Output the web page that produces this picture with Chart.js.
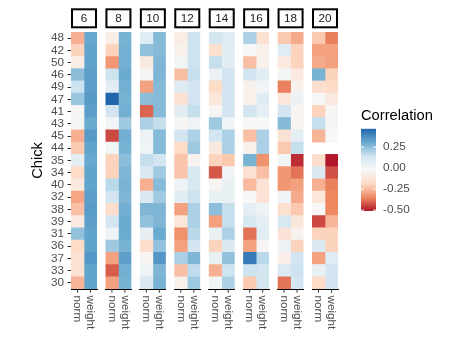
<!DOCTYPE html>
<html>
<head>
<meta charset="utf-8">
<script src="https://cdn.jsdelivr.net/npm/chart.js"></script>
<style>
  body { margin: 0; background: #fff; }
  #wrap { position: relative; width: 474px; height: 338px; }
  #wrap canvas { position: absolute; left: 0; top: 0; }
</style>
</head>
<body>
<div id="wrap"></div>
<script>
const chicks = ['48','42','50','46','49','47','41','43','45','44','35','34','40','32','38','39','31','36','37','33','30'];
const times = ['6','8','10','12','14','16','18','20'];
const variables = ['norm','weight'];

// correlation per time, one row per time, values follow the chicks order
const normCor = [
  [-0.27,-0.20,-0.08,0.25,0.15,0.23,-0.03,-0.03,-0.27,-0.22,0.06,-0.18,-0.10,-0.29,-0.24,-0.10,0.24,-0.18,-0.14,-0.14,-0.26], // 6
  [-0.08,-0.20,-0.32,0.15,0.07,0.47,0.14,0.00,-0.44,0.00,-0.20,-0.20,0.18,0.14,-0.17,0.14,0.02,0.22,-0.30,-0.41,-0.30],        // 8
  [0.08,0.24,-0.10,-0.03,-0.30,0.25,-0.40,0.20,0.03,0.02,0.16,0.10,-0.27,0.10,0.27,0.24,0.05,-0.17,-0.04,0.02,0.10],           // 10
  [-0.08,-0.06,0.00,-0.24,0.08,-0.15,0.07,-0.03,0.14,-0.18,-0.23,-0.23,0.02,0.07,-0.30,-0.12,-0.33,-0.30,0.20,-0.24,-0.06],    // 12
  [0.13,-0.15,0.16,0.03,-0.18,-0.12,-0.03,0.22,0.13,-0.10,-0.20,-0.42,-0.04,0.04,0.25,-0.30,0.04,-0.20,0.04,-0.27,0.00],       // 14
  [0.20,-0.02,-0.24,0.14,-0.06,-0.06,0.14,-0.02,-0.24,-0.06,0.28,-0.15,-0.25,-0.02,0.06,0.12,-0.38,-0.30,0.42,0.15,-0.22],     // 16
  [-0.22,0.08,-0.10,0.00,-0.36,-0.12,0.14,0.26,-0.14,-0.22,0.00,-0.32,-0.32,0.01,-0.15,0.12,-0.14,0.03,-0.07,0.10,-0.38],      // 18
  [-0.22,-0.30,-0.28,0.28,-0.16,-0.02,-0.20,0.16,-0.26,null,-0.17,0.10,-0.27,-0.12,-0.02,-0.44,-0.20,0.10,-0.30,0.04,-0.18]    // 20
];
const weightCor = [
  [0.31,0.32,0.32,0.33,0.33,0.34,0.33,0.30,0.34,0.32,0.31,0.32,0.32,0.33,0.34,0.33,0.32,0.32,0.35,0.32,0.32],
  [0.28,0.29,0.29,0.30,0.29,0.28,0.29,0.22,0.29,0.28,0.25,0.27,0.28,0.27,0.29,0.30,0.30,0.28,0.33,0.29,0.28],
  [0.26,0.26,0.27,0.27,0.26,0.26,0.26,0.16,0.26,0.26,0.14,0.22,0.26,0.22,0.27,0.27,0.30,0.24,0.35,0.27,0.28],
  [0.15,0.15,0.15,0.16,0.14,0.14,0.16,0.02,0.20,0.22,-0.05,0.12,0.12,0.15,0.20,0.20,0.18,0.14,0.27,0.17,0.22],
  [0.08,0.07,0.07,0.14,0.14,0.14,0.14,0.01,0.20,0.20,-0.22,0.01,0.04,0.04,0.16,0.16,0.20,0.10,0.24,0.15,0.20],
  [-0.15,-0.06,-0.06,0.07,0.01,0.08,0.06,-0.02,0.20,0.20,-0.33,-0.24,-0.14,-0.14,0.02,0.06,0.07,-0.03,0.18,0.14,0.14],
  [-0.28,-0.20,-0.20,-0.10,-0.06,0.03,-0.04,-0.04,0.06,0.16,-0.48,-0.38,-0.30,-0.28,-0.22,-0.12,-0.05,-0.20,0.13,0.15,0.13],
  [-0.36,-0.30,-0.30,-0.20,-0.18,-0.10,-0.03,-0.03,-0.02,null,-0.51,-0.43,-0.36,-0.35,-0.35,-0.26,-0.20,-0.20,0.08,0.14,0.14]
];
const legendBreaks = [-0.5, -0.25, 0, 0.25];

// RdBu, low -> high
const rdbu = ['#B2182B','#EF8A62','#FDDBC7','#F7F7F7','#D1E5F0','#67A9CF','#2166AC'];

const W = 474, H = 338;
const firstLeft = 71, step = 34.43, panelW = 26, panelTop = 32, panelBottom = 289;

Chart.defaults.font.family = '"Liberation Sans", Arial, sans-serif';

const allVals = normCor.flat().concat(weightCor.flat()).filter(v => v !== null);
const lo = Math.min(...allVals);
const hi = Math.max(...allVals);

const hexToRgb = h => [1, 3, 5].map(i => parseInt(h.substr(i, 2), 16));
const fillFor = v => {
  if (v === null) return 'rgba(0,0,0,0)';
  const t = (v - lo) / (hi - lo) * (rdbu.length - 1);
  const i = Math.min(Math.floor(t), rdbu.length - 2);
  const f = t - i;
  const a = hexToRgb(rdbu[i]), b = hexToRgb(rdbu[i + 1]);
  return 'rgb(' + a.map((c, k) => Math.round(c + (b[k] - c) * f)).join(',') + ')';
};

const newCanvas = () => {
  const c = document.createElement('canvas');
  c.width = W;
  c.height = H;
  document.getElementById('wrap').appendChild(c);
  return c;
};

// facet strip above each panel
const stripPlugin = {
  id: 'strip',
  afterDraw(chart, args, opts) {
    const {ctx, chartArea: a} = chart;
    ctx.save();
    ctx.fillStyle = '#fff';
    ctx.strokeStyle = '#000';
    ctx.lineWidth = 2;
    ctx.fillRect(a.left + 1, 9.3, a.width - 2, 18);
    ctx.strokeRect(a.left + 1, 9.3, a.width - 2, 18);
    ctx.fillStyle = '#1A1A1A';
    ctx.font = '11.7px "Liberation Sans", Arial, sans-serif';
    ctx.textAlign = 'center';
    ctx.textBaseline = 'middle';
    ctx.fillText(opts.label, (a.left + a.right) / 2, 18.6);
    ctx.restore();
  }
};

// x ticks + labels turned to read downward
const colLabels = {
  id: 'colLabels',
  afterDraw(chart) {
    const {ctx, chartArea: a} = chart;
    const x = chart.scales.x;
    ctx.save();
    ctx.strokeStyle = '#333';
    ctx.lineWidth = 1;
    ctx.fillStyle = '#4D4D4D';
    ctx.font = '11.7px "Liberation Sans", Arial, sans-serif';
    ctx.textAlign = 'left';
    ctx.textBaseline = 'middle';
    variables.forEach((v, i) => {
      const px = x.getPixelForValue(i + 0.5);
      ctx.beginPath();
      ctx.moveTo(px, a.bottom);
      ctx.lineTo(px, a.bottom + 3.7);
      ctx.stroke();
      ctx.save();
      ctx.translate(px, a.bottom + 6.5);
      ctx.rotate(Math.PI / 2);
      ctx.fillText(v, 0, 0);
      ctx.restore();
    });
    ctx.restore();
  }
};

times.forEach((t, k) => {
  const left = firstLeft + k * step;
  const first = k === 0;
  new Chart(newCanvas(), {
    type: 'bar',
    data: {
      labels: chicks,
      datasets: variables.map((v, j) => {
        const vals = (j === 0 ? normCor : weightCor)[k];
        return {
          label: v,
          data: vals.map(c => c === null ? null : 1),
          backgroundColor: vals.map(fillFor),
          borderWidth: 0,
          barPercentage: 1,
          categoryPercentage: 1
        };
      })
    },
    options: {
      indexAxis: 'y',
      responsive: false,
      animation: false,
      events: [],
      layout: {padding: {left: first ? 0 : left, right: W - left - panelW, top: panelTop, bottom: 0}},
      scales: {
        x: {
          type: 'linear', stacked: true, min: 0, max: 2,
          ticks: {display: false},
          grid: {display: false},
          border: {display: true, color: '#000', width: 1},
          afterFit: s => { s.height = H - panelBottom; }
        },
        y: {
          type: 'category', stacked: true, display: first,
          grid: {display: true, drawOnChartArea: false, offset: false, tickLength: 3.5, color: '#333'},
          border: {display: true, color: '#000', width: 1},
          ticks: {autoSkip: false, color: '#4D4D4D', padding: 3.5, font: {size: 11.7, lineHeight: 1}},
          title: {display: true, text: 'Chick', color: '#000', font: {size: 14.7}, padding: {top: 29, bottom: 0}},
          afterFit: s => { s.width = first ? left : 0; }
        }
      },
      plugins: {
        legend: {display: false},
        tooltip: {enabled: false},
        strip: {label: t}
      }
    },
    plugins: [stripPlugin, colLabels]
  });
});

// white break marks on the colour bar
const barTicks = {
  id: 'barTicks',
  afterDatasetsDraw(chart) {
    const {ctx, chartArea: a} = chart;
    const y = chart.scales.y;
    ctx.save();
    ctx.strokeStyle = '#fff';
    ctx.lineWidth = 1;
    legendBreaks.forEach(b => {
      const py = y.getPixelForValue(b);
      ctx.beginPath();
      ctx.moveTo(a.left, py); ctx.lineTo(a.left + 3, py);
      ctx.moveTo(a.right - 3, py); ctx.lineTo(a.right, py);
      ctx.stroke();
    });
    ctx.restore();
  }
};

new Chart(newCanvas(), {
  type: 'bar',
  data: {
    labels: ['Correlation'],
    datasets: [{
      data: [[lo, hi]],
      backgroundColor: c => {
        const a = c.chart.chartArea;
        if (!a) return rdbu[3];
        const g = c.chart.ctx.createLinearGradient(0, a.bottom, 0, a.top);
        rdbu.forEach((col, i) => g.addColorStop(i / (rdbu.length - 1), col));
        return g;
      },
      borderWidth: 0,
      barPercentage: 1,
      categoryPercentage: 1
    }]
  },
  options: {
    responsive: false,
    animation: false,
    events: [],
    layout: {padding: {left: 361, top: 107, bottom: H - 211, right: 0}},
    scales: {
      x: {display: false},
      y: {
        position: 'right', min: lo, max: hi,
        grid: {display: false, drawTicks: false},
        border: {display: false},
        ticks: {color: '#4D4D4D', padding: 7, font: {size: 11.7}, callback: v => Number(v).toFixed(2)},
        afterBuildTicks: s => { s.ticks = legendBreaks.map(v => ({value: v})); },
        afterFit: s => { s.width = W - 376; }
      }
    },
    plugins: {
      legend: {display: false},
      tooltip: {enabled: false},
      title: {display: true, text: 'Correlation', align: 'start', color: '#000', font: {size: 14.7, weight: 'normal'}, padding: {top: 0, bottom: 4}}
    }
  },
  plugins: [barTicks]
});
</script>
</body>
</html>
